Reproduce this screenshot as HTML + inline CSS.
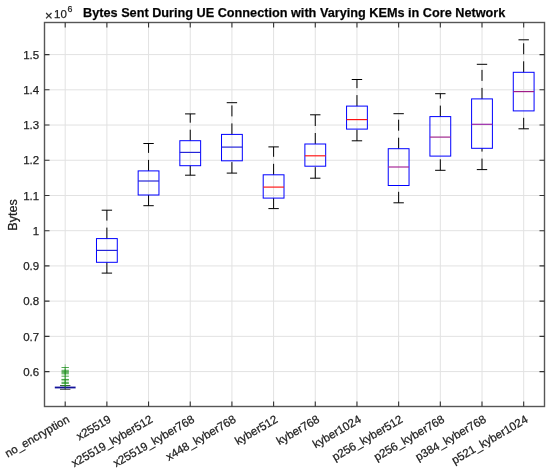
<!DOCTYPE html><html><head><meta charset="utf-8"><title>Bytes Sent During UE Connection</title><style>
html,body{margin:0;padding:0;background:#fff;}body{width:550px;height:473px;overflow:hidden;}
svg{display:block;filter:blur(0.3px);} text{font-family:"Liberation Sans",Arial,sans-serif;fill:#1e1e1e;stroke:#1e1e1e;stroke-width:0.25px;}
</style></head><body>
<svg width="550" height="473" viewBox="0 0 550 473">
<rect x="0" y="0" width="550" height="473" fill="#fff"/>
<path d="M65.20 22.5V406.5M106.88 22.5V406.5M148.56 22.5V406.5M190.24 22.5V406.5M231.92 22.5V406.5M273.60 22.5V406.5M315.28 22.5V406.5M356.96 22.5V406.5M398.64 22.5V406.5M440.32 22.5V406.5M482.00 22.5V406.5M523.68 22.5V406.5M44.5 371.58H544.5M44.5 336.36H544.5M44.5 301.14H544.5M44.5 265.92H544.5M44.5 230.70H544.5M44.5 195.48H544.5M44.5 160.26H544.5M44.5 125.04H544.5M44.5 89.82H544.5M44.5 54.60H544.5" stroke="#e2e2e2" stroke-width="1" fill="none"/>
<path d="M106.88 238.6V210.2" stroke="#000000" stroke-width="1" stroke-dasharray="11 7" fill="none"/>
<path d="M106.88 273.1V262.3" stroke="#000000" stroke-width="1" stroke-dasharray="11 7" fill="none"/>
<path d="M101.68 210.2H112.08M101.68 273.1H112.08" stroke="#000000" stroke-width="1" fill="none"/>
<rect x="96.48" y="238.6" width="20.80" height="23.70" stroke="#0000ff" stroke-width="1" fill="none"/>
<path d="M96.48 250.4H117.28" stroke="#2525d8" stroke-width="1.2" fill="none"/>
<path d="M148.56 170.9V143.5" stroke="#000000" stroke-width="1" stroke-dasharray="11 7" fill="none"/>
<path d="M148.56 205.7V195.0" stroke="#000000" stroke-width="1" stroke-dasharray="11 7" fill="none"/>
<path d="M143.36 143.5H153.76M143.36 205.7H153.76" stroke="#000000" stroke-width="1" fill="none"/>
<rect x="138.16" y="170.9" width="20.80" height="24.10" stroke="#0000ff" stroke-width="1" fill="none"/>
<path d="M138.16 181.0H158.96" stroke="#2525d8" stroke-width="1.2" fill="none"/>
<path d="M190.24 140.7V113.9" stroke="#000000" stroke-width="1" stroke-dasharray="11 7" fill="none"/>
<path d="M190.24 175.2V165.7" stroke="#000000" stroke-width="1" stroke-dasharray="11 7" fill="none"/>
<path d="M185.04 113.9H195.44M185.04 175.2H195.44" stroke="#000000" stroke-width="1" fill="none"/>
<rect x="179.84" y="140.7" width="20.80" height="25.00" stroke="#0000ff" stroke-width="1" fill="none"/>
<path d="M179.84 152.4H200.64" stroke="#2525d8" stroke-width="1.2" fill="none"/>
<path d="M231.92 134.4V102.7" stroke="#000000" stroke-width="1" stroke-dasharray="11 7" fill="none"/>
<path d="M231.92 173.1V160.8" stroke="#000000" stroke-width="1" stroke-dasharray="11 7" fill="none"/>
<path d="M226.72 102.7H237.12M226.72 173.1H237.12" stroke="#000000" stroke-width="1" fill="none"/>
<rect x="221.52" y="134.4" width="20.80" height="26.40" stroke="#0000ff" stroke-width="1" fill="none"/>
<path d="M221.52 147.1H242.32" stroke="#2525d8" stroke-width="1.2" fill="none"/>
<path d="M273.60 174.8V146.9" stroke="#000000" stroke-width="1" stroke-dasharray="11 7" fill="none"/>
<path d="M273.60 208.6V198.1" stroke="#000000" stroke-width="1" stroke-dasharray="11 7" fill="none"/>
<path d="M268.40 146.9H278.80M268.40 208.6H278.80" stroke="#000000" stroke-width="1" fill="none"/>
<rect x="263.20" y="174.8" width="20.80" height="23.30" stroke="#0000ff" stroke-width="1" fill="none"/>
<path d="M263.20 187.1H284.00" stroke="#ff1a1a" stroke-width="1.2" fill="none"/>
<path d="M315.28 144.0V114.8" stroke="#000000" stroke-width="1" stroke-dasharray="11 7" fill="none"/>
<path d="M315.28 178.2V166.2" stroke="#000000" stroke-width="1" stroke-dasharray="11 7" fill="none"/>
<path d="M310.08 114.8H320.48M310.08 178.2H320.48" stroke="#000000" stroke-width="1" fill="none"/>
<rect x="304.88" y="144.0" width="20.80" height="22.20" stroke="#0000ff" stroke-width="1" fill="none"/>
<path d="M304.88 155.8H325.68" stroke="#ff1a1a" stroke-width="1.2" fill="none"/>
<path d="M356.96 106.1V79.5" stroke="#000000" stroke-width="1" stroke-dasharray="11 7" fill="none"/>
<path d="M356.96 140.8V129.1" stroke="#000000" stroke-width="1" stroke-dasharray="11 7" fill="none"/>
<path d="M351.76 79.5H362.16M351.76 140.8H362.16" stroke="#000000" stroke-width="1" fill="none"/>
<rect x="346.56" y="106.1" width="20.80" height="23.00" stroke="#0000ff" stroke-width="1" fill="none"/>
<path d="M346.56 119.6H367.36" stroke="#ff1010" stroke-width="1.2" fill="none"/>
<path d="M398.64 148.7V113.7" stroke="#000000" stroke-width="1" stroke-dasharray="11 7" fill="none"/>
<path d="M398.64 202.8V185.5" stroke="#000000" stroke-width="1" stroke-dasharray="11 7" fill="none"/>
<path d="M393.44 113.7H403.84M393.44 202.8H403.84" stroke="#000000" stroke-width="1" fill="none"/>
<rect x="388.24" y="148.7" width="20.80" height="36.80" stroke="#0000ff" stroke-width="1" fill="none"/>
<path d="M388.24 167.0H409.04" stroke="#a82a98" stroke-width="1.2" fill="none"/>
<path d="M440.32 116.6V93.7" stroke="#000000" stroke-width="1" stroke-dasharray="11 7" fill="none"/>
<path d="M440.32 170.3V156.1" stroke="#000000" stroke-width="1" stroke-dasharray="11 7" fill="none"/>
<path d="M435.12 93.7H445.52M435.12 170.3H445.52" stroke="#000000" stroke-width="1" fill="none"/>
<rect x="429.92" y="116.6" width="20.80" height="39.50" stroke="#0000ff" stroke-width="1" fill="none"/>
<path d="M429.92 137.1H450.72" stroke="#a0288f" stroke-width="1.2" fill="none"/>
<path d="M482.00 98.9V64.3" stroke="#000000" stroke-width="1" stroke-dasharray="11 7" fill="none"/>
<path d="M482.00 169.6V148.3" stroke="#000000" stroke-width="1" stroke-dasharray="11 7" fill="none"/>
<path d="M476.80 64.3H487.20M476.80 169.6H487.20" stroke="#000000" stroke-width="1" fill="none"/>
<rect x="471.60" y="98.9" width="20.80" height="49.40" stroke="#0000ff" stroke-width="1" fill="none"/>
<path d="M471.60 124.3H492.40" stroke="#9a28a8" stroke-width="1.2" fill="none"/>
<path d="M523.68 72.3V39.8" stroke="#000000" stroke-width="1" stroke-dasharray="11 7" fill="none"/>
<path d="M523.68 128.8V110.9" stroke="#000000" stroke-width="1" stroke-dasharray="11 7" fill="none"/>
<path d="M518.48 39.8H528.88M518.48 128.8H528.88" stroke="#000000" stroke-width="1" fill="none"/>
<rect x="513.28" y="72.3" width="20.80" height="38.60" stroke="#0000ff" stroke-width="1" fill="none"/>
<path d="M513.28 91.6H534.08" stroke="#a01c88" stroke-width="1.2" fill="none"/>
<path d="M65.20 385.6V389.3M60.00 389.3H70.40M60.00 385.6H70.40" stroke="#000000" stroke-width="1" fill="none" stroke-opacity="0.75"/>
<path d="M54.80 387.5H75.60" stroke="#12129a" stroke-width="1.8" fill="none"/>
<path d="M65.20 364.30V370.70M65.20 367.10V373.50M65.20 368.40V374.80M65.20 369.50V375.90M65.20 370.60V377.00M65.20 373.00V379.40M65.20 376.20V382.60M65.20 376.80V383.20M65.20 379.10V385.50M65.20 380.20V386.60M65.20 382.40V388.80" stroke="#2a962a" stroke-width="0.7" fill="none" stroke-opacity="0.7"/>
<path d="M61.50 367.5H68.90M61.50 370.3H68.90M61.50 371.6H68.90M61.50 372.7H68.90M61.50 373.8H68.90M61.50 376.2H68.90M61.50 379.4H68.90M61.50 380.0H68.90M61.50 382.3H68.90M61.50 383.4H68.90M61.50 385.6H68.90" stroke="#1a8f1a" stroke-width="0.85" fill="none" stroke-opacity="0.9"/>
<rect x="44.5" y="22.5" width="500.0" height="384.0" stroke="#565656" stroke-width="1.4" fill="none"/>
<path d="M65.20 406.5V401.5M65.20 22.5V27.5M106.88 406.5V401.5M106.88 22.5V27.5M148.56 406.5V401.5M148.56 22.5V27.5M190.24 406.5V401.5M190.24 22.5V27.5M231.92 406.5V401.5M231.92 22.5V27.5M273.60 406.5V401.5M273.60 22.5V27.5M315.28 406.5V401.5M315.28 22.5V27.5M356.96 406.5V401.5M356.96 22.5V27.5M398.64 406.5V401.5M398.64 22.5V27.5M440.32 406.5V401.5M440.32 22.5V27.5M482.00 406.5V401.5M482.00 22.5V27.5M523.68 406.5V401.5M523.68 22.5V27.5M44.5 371.58H49.5M544.5 371.58H539.5M44.5 336.36H49.5M544.5 336.36H539.5M44.5 301.14H49.5M544.5 301.14H539.5M44.5 265.92H49.5M544.5 265.92H539.5M44.5 230.70H49.5M544.5 230.70H539.5M44.5 195.48H49.5M544.5 195.48H539.5M44.5 160.26H49.5M544.5 160.26H539.5M44.5 125.04H49.5M544.5 125.04H539.5M44.5 89.82H49.5M544.5 89.82H539.5M44.5 54.60H49.5M544.5 54.60H539.5" stroke="#333" stroke-width="1.1" fill="none"/>
<text x="39.20" y="375.78" font-size="11.5" text-anchor="end">0.6</text>
<text x="39.20" y="340.56" font-size="11.5" text-anchor="end">0.7</text>
<text x="39.20" y="305.34" font-size="11.5" text-anchor="end">0.8</text>
<text x="39.20" y="270.12" font-size="11.5" text-anchor="end">0.9</text>
<text x="39.20" y="234.90" font-size="11.5" text-anchor="end">1</text>
<text x="39.20" y="199.68" font-size="11.5" text-anchor="end">1.1</text>
<text x="39.20" y="164.46" font-size="11.5" text-anchor="end">1.2</text>
<text x="39.20" y="129.24" font-size="11.5" text-anchor="end">1.3</text>
<text x="39.20" y="94.02" font-size="11.5" text-anchor="end">1.4</text>
<text x="39.20" y="58.80" font-size="11.5" text-anchor="end">1.5</text>
<text transform="translate(70.20,421.6) rotate(-30)" font-size="11.5" text-anchor="end">no_encryption</text>
<text transform="translate(111.88,421.6) rotate(-30)" font-size="11.5" text-anchor="end">x25519</text>
<text transform="translate(153.56,421.6) rotate(-30)" font-size="11.5" text-anchor="end">x25519_kyber512</text>
<text transform="translate(195.24,421.6) rotate(-30)" font-size="11.5" text-anchor="end">x25519_kyber768</text>
<text transform="translate(236.92,421.6) rotate(-30)" font-size="11.5" text-anchor="end">x448_kyber768</text>
<text transform="translate(278.60,421.6) rotate(-30)" font-size="11.5" text-anchor="end">kyber512</text>
<text transform="translate(320.28,421.6) rotate(-30)" font-size="11.5" text-anchor="end">kyber768</text>
<text transform="translate(361.96,421.6) rotate(-30)" font-size="11.5" text-anchor="end">kyber1024</text>
<text transform="translate(403.64,421.6) rotate(-30)" font-size="11.5" text-anchor="end">p256_kyber512</text>
<text transform="translate(445.32,421.6) rotate(-30)" font-size="11.5" text-anchor="end">p256_kyber768</text>
<text transform="translate(487.00,421.6) rotate(-30)" font-size="11.5" text-anchor="end">p384_kyber768</text>
<text transform="translate(528.68,421.6) rotate(-30)" font-size="11.5" text-anchor="end">p521_kyber1024</text>
<text x="44.9" y="19.9" font-size="13">&#215;</text><text x="54.0" y="18.3" font-size="11.5">10</text><text x="67.6" y="12.3" font-size="8.8">6</text>
<text x="294.2" y="16.7" font-size="12.7" font-weight="bold" text-anchor="middle" fill="#000" style="fill:#000">Bytes Sent During UE Connection with Varying KEMs in Core Network</text>
<text transform="translate(16.8,214.9) rotate(-90)" font-size="12.6" text-anchor="middle">Bytes</text>
</svg></body></html>
